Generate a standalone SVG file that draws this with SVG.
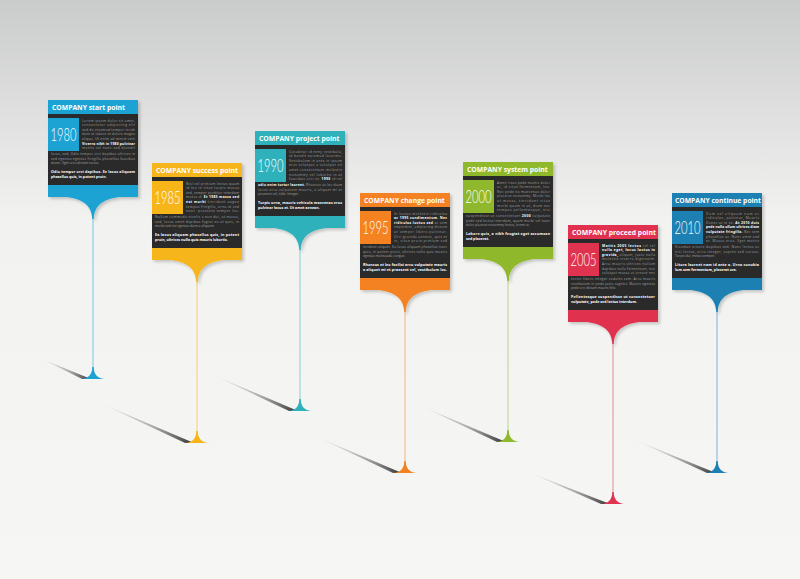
<svg xmlns="http://www.w3.org/2000/svg" width="800" height="579" viewBox="0 0 800 579">
<defs>
<linearGradient id="bg" x1="0" y1="0" x2="0" y2="1">
<stop offset="0" stop-color="#cacbcb"/>
<stop offset="0.38" stop-color="#f2f3f1"/>
<stop offset="1" stop-color="#f6f7f5"/>
</linearGradient>
<linearGradient id="sh" x1="0" y1="0" x2="1" y2="0">
<stop offset="0" stop-color="#666" stop-opacity="0"/>
<stop offset="0.55" stop-color="#555" stop-opacity="0.45"/>
<stop offset="1" stop-color="#333" stop-opacity="1"/>
</linearGradient>
<filter id="ds" x="-10%" y="-10%" width="125%" height="130%">
<feDropShadow dx="2" dy="2" stdDeviation="1.8" flood-color="#000" flood-opacity="0.2"/>
</filter>
<g id="flare-shape"><path d="M0,96 L90,96 C61,96 46.5,101 45.7,119 L44.3,119 C43.5,101 29,96 0,96 Z"/></g>
</defs>
<style>
.h{font-family:"Open Sans","Liberation Sans",sans-serif;font-weight:bold;font-size:6.8px;fill:#fff}
.y{font-family:Lato,"Open Sans",sans-serif;font-weight:300;font-size:17px;fill:#fff;text-anchor:middle}
.t{font-family:"Open Sans","Liberation Sans",sans-serif;font-size:3.3px;fill:#a2a2a2}
.w{font-weight:bold;fill:#fff}
.b{font-family:"Open Sans","Liberation Sans",sans-serif;font-weight:bold;font-size:3.6px;fill:#fff}
.dark{fill:#2a2a2a}
.stem{stroke-width:1.4;stroke-opacity:0.4;fill:none}
.shadow{fill:url(#sh)}
</style>
<rect x="0" y="0" width="800" height="579" fill="url(#bg)"/>

<g id="connectors">
<!-- shadows -->
<path class="shadow" d="M42,359 L91,379 L82,379 Z"/>
<path class="shadow" d="M100,403 L194,443 L185,443 Z"/>
<path class="shadow" d="M213,375 L298,411 L289,411 Z"/>
<path class="shadow" d="M317,437 L402,473 L393,473 Z"/>
<path class="shadow" d="M421,406 L506,442 L497,442 Z"/>
<path class="shadow" d="M528,472 L610,504 L601,504 Z"/>
<path class="shadow" d="M635,440 L716,473 L707,473 Z"/>
<!-- stems -->
<line class="stem" stroke="#1ca3d4" x1="93" y1="215" x2="93" y2="370"/>
<line class="stem" stroke="#f7b51a" x1="197" y1="278" x2="197" y2="434"/>
<line class="stem" stroke="#2fb1bb" x1="300" y1="246" x2="300" y2="402"/>
<line class="stem" stroke="#f58220" x1="405" y1="308" x2="405" y2="464"/>
<line class="stem" stroke="#8fb82c" x1="508" y1="277" x2="508" y2="433"/>
<line class="stem" stroke="#e0334f" x1="613" y1="340" x2="613" y2="495"/>
<line class="stem" stroke="#1c80b3" x1="717" y1="308" x2="717" y2="464"/>
<!-- base spikes -->
<path fill="#1ca3d4" d="M81,379 Q92,378.5 92.3,367 L93.7,367 Q94,378.5 105,379 Z"/>
<path fill="#f7b51a" d="M185,443 Q196,442.5 196.3,431 L197.7,431 Q198,442.5 209,443 Z"/>
<path fill="#2fb1bb" d="M288,411 Q299,410.5 299.3,399 L300.7,399 Q301,410.5 312,411 Z"/>
<path fill="#f58220" d="M393,473 Q404,472.5 404.3,461 L405.7,461 Q406,472.5 417,473 Z"/>
<path fill="#8fb82c" d="M496,442 Q507,441.5 507.3,430 L508.7,430 Q509,441.5 520,442 Z"/>
<path fill="#e0334f" d="M601,504 Q612,503.5 612.3,492 L613.7,492 Q614,503.5 625,504 Z"/>
<path fill="#1c80b3" d="M705,473 Q716,472.5 716.3,461 L717.7,461 Q718,472.5 729,473 Z"/>
</g>

<!-- Card 1 -->
<g id="node-1980" transform="translate(48,100)">
<g filter="url(#ds)" fill="#1ca3d4"><rect x="0" y="0" width="90" height="97"/><use href="#flare-shape"/></g>
<rect class="dark" x="0" y="14" width="90" height="71"/>
<rect x="0" y="18" width="31" height="33" fill="#1ca3d4"/>
<text class="h" x="4" y="10">COMPANY start point</text>
<text class="y" transform="translate(15.5,40.5) scale(0.66,1)">1980</text>
<text class="t" x="34" y="21.5" textLength="53">Lorem ipsum dolor sit amet,</text>
<text class="t" x="34" y="26.1" textLength="53">consectetur adipiscing elit</text>
<text class="t" x="34" y="30.7" textLength="53">sed do eiusmod tempor incidi</text>
<text class="t" x="34" y="35.3" textLength="53">dunt ut labore et dolore magna</text>
<text class="t" x="34" y="39.9" textLength="53">aliqua. Ut enim ad minim veni</text>
<text class="t w" x="34" y="44.5" textLength="53">Viverra nibh in 1980 pulvinar</text>
<text class="t" x="34" y="49.1" textLength="53">mattis vel nunc sed blandit</text>
<text class="t" x="3" y="55" textLength="84">lacus, sed. Odio tempor orci dapibus ultrices in</text>
<text class="t" x="3" y="59.6" textLength="84">sed egestas egestas fringilla phasellus faucibus</text>
<text class="t" x="3" y="64.2">donec. Eget arcu dictum varius.</text>
<text class="b" x="3" y="72.5" textLength="84">Odio tempor orci dapibus. Ee lacus aliquam</text>
<text class="b" x="3" y="77.7">phasellus quis, in potent proin.</text>
</g>

<!-- Card 2 -->
<g id="node-1985" transform="translate(152,163)">
<g filter="url(#ds)" fill="#f7b51a"><rect x="0" y="0" width="90" height="97"/><use href="#flare-shape"/></g>
<rect class="dark" x="0" y="14" width="90" height="71"/>
<rect x="0" y="18" width="31" height="33" fill="#f7b51a"/>
<text class="h" x="4" y="10">COMPANY success point</text>
<text class="y" transform="translate(15.5,40.5) scale(0.66,1)">1985</text>
<text class="t" x="34" y="21.5" textLength="53">Nisl vel pretium lectus quam</text>
<text class="t" x="34" y="26.1" textLength="53">id leo in vitae turpis massa</text>
<text class="t" x="34" y="30.7" textLength="53">sed, semper porttitor interdum</text>
<text class="t" x="34" y="35.3" textLength="53">massa d. <tspan class="w">Et 1985 massa sed</tspan></text>
<text class="t" x="34" y="39.9" textLength="53"><tspan class="w">est morbi</tspan> tincidunt augue</text>
<text class="t" x="34" y="44.5" textLength="53">tempus fringilla, urna et sed</text>
<text class="t" x="34" y="49.1" textLength="53">nunc. praesent semper leo.</text>
<text class="t" x="3" y="55" textLength="84">Nullam commodo nivelis a non dui, ut massa,</text>
<text class="t" x="3" y="59.6" textLength="84">sed, lacus amet dapibus fugiat eu ut quis, in</text>
<text class="t" x="3" y="64.2">morbi sed nisi egestas diam a aliquam.</text>
<text class="b" x="3" y="72.5" textLength="84">Ea lacus aliquam phasellus quis, in potent</text>
<text class="b" x="3" y="77.7">proin, ultrices nulla quis mauris lobortis.</text>
</g>

<!-- Card 3 -->
<g id="node-1990" transform="translate(255,131)">
<g filter="url(#ds)" fill="#2fb1bb"><rect x="0" y="0" width="90" height="97"/><use href="#flare-shape"/></g>
<rect class="dark" x="0" y="14" width="90" height="71"/>
<rect x="0" y="18" width="31" height="33" fill="#2fb1bb"/>
<text class="h" x="4" y="10">COMPANY project point</text>
<text class="y" transform="translate(15.5,40.5) scale(0.66,1)">1990</text>
<text class="t" x="34" y="21.5" textLength="53">Curabitur id neny vestibulu,</text>
<text class="t" x="34" y="26.1" textLength="53">id bandit euismod lacurmo.</text>
<text class="t" x="34" y="30.7" textLength="53">Vestibulum in ante in ipsum</text>
<text class="t" x="34" y="35.3" textLength="53">erat volutpat a volutpat sit</text>
<text class="t" x="34" y="39.9" textLength="53">amet consectetuer molestie</text>
<text class="t" x="34" y="44.5" textLength="53">nonummy vel lobortis in ut</text>
<text class="t" x="34" y="49.1" textLength="53">faucibus orci et. <tspan class="w">1990</tspan> id vel</text>
<text class="t" x="3" y="55" textLength="84"><tspan class="w">odio enim tortor laoreet.</tspan> Rhoncus ut leo diam</text>
<text class="t" x="3" y="59.6" textLength="84">lacus arcu vulputate mauris, a aliquet mi et</text>
<text class="t" x="3" y="64.2">praesent vel, nibh. Integer.</text>
<text class="b" x="3" y="72.5" textLength="84">Turpis urna, mauris vehicula maecenas eros</text>
<text class="b" x="3" y="77.7">pulvinar lacus et. Ut amet aenean.</text>
</g>

<!-- Card 4 -->
<g id="node-1995" transform="translate(360,193)">
<g filter="url(#ds)" fill="#f58220"><rect x="0" y="0" width="90" height="97"/><use href="#flare-shape"/></g>
<rect class="dark" x="0" y="14" width="90" height="71"/>
<rect x="0" y="18" width="31" height="33" fill="#f58220"/>
<text class="h" x="4" y="10">COMPANY change point</text>
<text class="y" transform="translate(15.5,40.5) scale(0.66,1)">1995</text>
<text class="t" x="34" y="21.5" textLength="53">In luctus molestie ridiculus</text>
<text class="t w" x="34" y="26.1" textLength="53">ac 1995 condimentum. Nec</text>
<text class="t" x="34" y="30.7" textLength="53"><tspan class="w">ridiculus luctus sed</tspan> ac sem</text>
<text class="t" x="34" y="35.3" textLength="53">imperdiet, adipiscing dictum</text>
<text class="t" x="34" y="39.9" textLength="53">ut semper libero pulvinar.</text>
<text class="t" x="34" y="44.5" textLength="53">Orci gravida aenean, quis et</text>
<text class="t" x="34" y="49.1" textLength="53">in, vitae proin pretium sed</text>
<text class="t" x="3" y="55" textLength="84">incidunt aliquet. Eu lacus aliquam phasellus nunc</text>
<text class="t" x="3" y="59.6" textLength="84">quis, in potent proin, ultrices nulla quis mauris</text>
<text class="t" x="3" y="64.2">egestas malesuada congue.</text>
<text class="b" x="3" y="72.5" textLength="84">Rhoncus et leo facilisi arcu vulputate mauris</text>
<text class="b" x="3" y="77.7" textLength="84">a aliquet mi et praesent vel, vestibulum leo.</text>
</g>

<!-- Card 5 -->
<g id="node-2000" transform="translate(463,162)">
<g filter="url(#ds)" fill="#8fb82c"><rect x="0" y="0" width="90" height="97"/><use href="#flare-shape"/></g>
<rect class="dark" x="0" y="14" width="90" height="71"/>
<rect x="0" y="18" width="31" height="33" fill="#8fb82c"/>
<text class="h" x="4" y="10">COMPANY system point</text>
<text class="y" transform="translate(15.5,40.5) scale(0.66,1)">2000</text>
<text class="t" x="34" y="21.5" textLength="53">Amet risus pede mattis dolor</text>
<text class="t" x="34" y="26.1" textLength="53">ac, id vitae fermentum, leo.</text>
<text class="t" x="34" y="30.7" textLength="53">Nec pede eu maecenas dolor</text>
<text class="t" x="34" y="35.3" textLength="53">placerat nonummy. Morbi leo</text>
<text class="t" x="34" y="39.9" textLength="53">ut massa, tincidunt vitae</text>
<text class="t" x="34" y="44.5" textLength="53">morbi quam in ut, diam nec</text>
<text class="t" x="34" y="49.1" textLength="53">tempus pellentesque, nisi</text>
<text class="t" x="3" y="55" textLength="84">suspendisse ut consectetuer <tspan class="w">2000</tspan> vulputate</text>
<text class="t" x="3" y="59.6" textLength="84">pede sed lectus interdum, quam morbi vel nunc</text>
<text class="t" x="3" y="64.2">dolor placerat nonummy lectus, lorem ac.</text>
<text class="b" x="3" y="72.5" textLength="84">Labore quis, a nibh feugiat eget accumsan</text>
<text class="b" x="3" y="77.7">sed placerat.</text>
</g>

<!-- Card 6 -->
<g id="node-2005" transform="translate(568,225)">
<g filter="url(#ds)" fill="#e0334f"><rect x="0" y="0" width="90" height="97"/><use href="#flare-shape"/></g>
<rect class="dark" x="0" y="14" width="90" height="71"/>
<rect x="0" y="18" width="31" height="33" fill="#e0334f"/>
<text class="h" x="4" y="10">COMPANY proceed point</text>
<text class="y" transform="translate(15.5,40.5) scale(0.66,1)">2005</text>
<text class="t" x="34" y="21.5" textLength="53"><tspan class="w">Mattis 2005 lectus</tspan> vel tel</text>
<text class="t w" x="34" y="26.1" textLength="53">nulla eget, lacus luctus in</text>
<text class="t" x="34" y="30.7" textLength="53"><tspan class="w">gravida,</tspan> aliquet, justo nulla</text>
<text class="t" x="34" y="35.3" textLength="53">molestie viverra dignissim.</text>
<text class="t" x="34" y="39.9" textLength="53">Arcu mauris ultrices nullam</text>
<text class="t" x="34" y="44.5" textLength="53">dapibus nulla fermentum, nisi</text>
<text class="t" x="34" y="49.1" textLength="53">volutpat massa at ornare nec</text>
<text class="t" x="3" y="55" textLength="84">tortor libero integer sodales sem. Arcu mauris</text>
<text class="t" x="3" y="59.6" textLength="84">vestibulum in pede justo sagittis. Mauris egestas</text>
<text class="t" x="3" y="64.2">pede orci dictum mauris felis.</text>
<text class="b" x="3" y="72.5" textLength="84">Pellentesque suspendisse ut consectetuer</text>
<text class="b" x="3" y="77.7">vulputate, pede sed lectus interdum.</text>
</g>

<!-- Card 7 -->
<g id="node-2010" transform="translate(672,193)">
<g filter="url(#ds)" fill="#1c80b3"><rect x="0" y="0" width="90" height="97"/><use href="#flare-shape"/></g>
<rect class="dark" x="0" y="14" width="90" height="71"/>
<rect x="0" y="18" width="31" height="33" fill="#1c80b3"/>
<text class="h" x="3" y="10" textLength="86" lengthAdjust="spacingAndGlyphs">COMPANY continue point</text>
<text class="y" transform="translate(15.5,40.5) scale(0.66,1)">2010</text>
<text class="t" x="34" y="21.5" textLength="53">Dam vel aliquam nam ac</text>
<text class="t" x="34" y="26.1" textLength="53">ridiculus, pulvinar, Mauris</text>
<text class="t" x="34" y="30.7" textLength="53">Donec ut in ex. <tspan class="w">At 2010 duis</tspan></text>
<text class="t w" x="34" y="35.3" textLength="53">pede nulla ullum ultrices diam</text>
<text class="t" x="34" y="39.9" textLength="53"><tspan class="w">vulputate fringilla.</tspan> Nec sem</text>
<text class="t" x="34" y="44.5" textLength="53">phasellus ac. Nunc amet sed</text>
<text class="t" x="34" y="49.1" textLength="53">et. Massa eros. Eget mattis</text>
<text class="t" x="3" y="55" textLength="84">Vivamus ornare dapibus sed. Nunc lectus ac</text>
<text class="t" x="3" y="59.6" textLength="84">nisi lectus, arcu integer, sapien sed cursus.</text>
<text class="t" x="3" y="64.2">Turpis dui, metus semper.</text>
<text class="b" x="3" y="72.5" textLength="84">Litora laoreet nam id ante a. Urna conubia</text>
<text class="b" x="3" y="77.7">lum sem fermentum, placerat ora.</text>
</g>
</svg>
